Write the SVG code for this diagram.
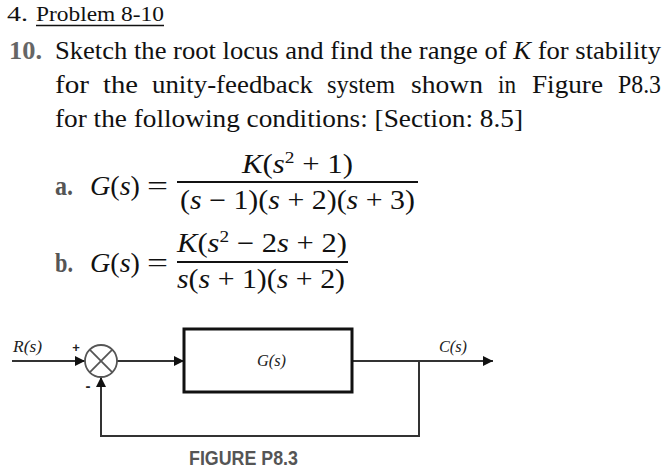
<svg xmlns="http://www.w3.org/2000/svg" width="668" height="470" viewBox="0 0 668 470">
<style>
.t{font-family:'Liberation Serif','Times New Roman',serif;fill:#111;}
.body{font-size:25px;}
.math{font-size:27px;}
.i{font-style:italic;}
.num{font-family:'Liberation Serif',serif;font-weight:bold;fill:#666;font-size:25px;}
.lbl{font-family:'Liberation Serif',serif;font-style:italic;font-size:16px;fill:#222;}
.ln{stroke:#333;stroke-width:2;fill:none;}
.bar{stroke:#111;stroke-width:2;}
.fig{font-family:'Liberation Sans',Arial,sans-serif;font-weight:bold;font-size:20px;fill:#555;}
</style>
<defs>
<marker id="ah" viewBox="0 0 10 10" refX="10" refY="5" markerWidth="13" markerHeight="10" markerUnits="userSpaceOnUse" orient="auto">
<path d="M0,0 L10,5 L0,10 z" fill="#111"/>
</marker>
</defs>

<g id="text" font-family="'Liberation Serif', serif">
<text class="t" x="7" y="21" font-size="21" textLength="21" lengthAdjust="spacingAndGlyphs">4.</text>
<text class="t" x="36" y="21" font-size="21" textLength="128" lengthAdjust="spacingAndGlyphs">Problem 8-10</text>
<line x1="36" y1="25.5" x2="164" y2="25.5" stroke="#111" stroke-width="1.3"/>
<text class="num" x="9" y="59" textLength="33" lengthAdjust="spacingAndGlyphs">10.</text>
<text class="t body" x="55" y="59" textLength="606" lengthAdjust="spacingAndGlyphs">Sketch the root locus and find the range of <tspan class="i">K</tspan> for stability</text>
<text class="t body" x="55" y="93" textLength="34" lengthAdjust="spacingAndGlyphs">for</text>
<text class="t body" x="103" y="93" textLength="35" lengthAdjust="spacingAndGlyphs">the</text>
<text class="t body" x="152" y="93" textLength="161" lengthAdjust="spacingAndGlyphs">unity-feedback</text>
<text class="t body" x="327" y="93" textLength="68" lengthAdjust="spacingAndGlyphs">system</text>
<text class="t body" x="411" y="93" textLength="72" lengthAdjust="spacingAndGlyphs">shown</text>
<text class="t body" x="498" y="93" textLength="18" lengthAdjust="spacingAndGlyphs">in</text>
<text class="t body" x="532" y="93" textLength="71" lengthAdjust="spacingAndGlyphs">Figure</text>
<text class="t body" x="618" y="93" textLength="43" lengthAdjust="spacingAndGlyphs">P8.3</text>
<text class="t body" x="55" y="127" textLength="468" lengthAdjust="spacingAndGlyphs">for the following conditions: [Section: 8.5]</text>
</g>

<g id="eq-a" font-family="'Liberation Serif', serif">
<text class="t math" x="55" y="195" textLength="18" lengthAdjust="spacingAndGlyphs"><tspan font-weight="bold" fill="#555">a.</tspan></text>
<text class="t math" x="90" y="195" textLength="50" lengthAdjust="spacingAndGlyphs"><tspan class="i">G</tspan>(<tspan class="i">s</tspan>)</text>
<text class="t math" x="147" y="195" textLength="21" lengthAdjust="spacingAndGlyphs">=</text>
<text class="t math" x="242" y="173" textLength="111" lengthAdjust="spacingAndGlyphs"><tspan class="i">K</tspan>(<tspan class="i">s</tspan><tspan dy="-10" font-size="17">2</tspan><tspan dy="10"> + 1)</tspan></text>
<line class="bar" x1="177" y1="182" x2="418" y2="182"/>
<text class="t math" x="180" y="209" textLength="235" lengthAdjust="spacingAndGlyphs">(<tspan class="i">s</tspan> − 1)(<tspan class="i">s</tspan> + 2)(<tspan class="i">s</tspan> + 3)</text>
</g>

<g id="eq-b" font-family="'Liberation Serif', serif">
<text class="t math" x="55" y="272" textLength="18" lengthAdjust="spacingAndGlyphs"><tspan font-weight="bold" fill="#555">b.</tspan></text>
<text class="t math" x="90" y="272" textLength="50" lengthAdjust="spacingAndGlyphs"><tspan class="i">G</tspan>(<tspan class="i">s</tspan>)</text>
<text class="t math" x="147" y="272" textLength="21" lengthAdjust="spacingAndGlyphs">=</text>
<text class="t math" x="177" y="252" textLength="170" lengthAdjust="spacingAndGlyphs"><tspan class="i">K</tspan>(<tspan class="i">s</tspan><tspan dy="-10" font-size="17">2</tspan><tspan dy="10"> − 2<tspan class="i">s</tspan> + 2)</tspan></text>
<line class="bar" x1="177" y1="262" x2="348" y2="262"/>
<text class="t math" x="177" y="288" textLength="168" lengthAdjust="spacingAndGlyphs"><tspan class="i">s</tspan>(<tspan class="i">s</tspan> + 1)(<tspan class="i">s</tspan> + 2)</text>
</g>

<g id="connectors">
<line class="ln" x1="12" y1="361" x2="85" y2="361" marker-end="url(#ah)"/>
<line class="ln" x1="117" y1="361" x2="184" y2="361" marker-end="url(#ah)"/>
<line class="ln" x1="352" y1="361" x2="493" y2="361" marker-end="url(#ah)"/>
<polyline class="ln" points="419,361 419,436 101,436 101,377" marker-end="url(#ah)"/>
</g>

<g id="sum">
<circle cx="101" cy="361" r="16" fill="#fff" stroke="#555" stroke-width="1.8"/>
<line x1="89.7" y1="349.7" x2="112.3" y2="372.3" stroke="#555" stroke-width="1.8"/>
<line x1="112.3" y1="349.7" x2="89.7" y2="372.3" stroke="#555" stroke-width="1.8"/>
<text x="76" y="352" font-family="'Liberation Sans', sans-serif" font-size="13" text-anchor="middle" font-weight="bold" fill="#222">+</text>
<text x="88" y="391" font-family="'Liberation Sans', sans-serif" font-size="15" text-anchor="middle" font-weight="bold" fill="#222">-</text>
</g>

<g id="block">
<rect x="184" y="329" width="168" height="63" fill="#fff" stroke="#111" stroke-width="3"/>
<text class="lbl" x="257" y="366" font-family="'Liberation Serif', serif" textLength="29" lengthAdjust="spacingAndGlyphs">G(s)</text>
</g>

<g id="labels">
<text class="lbl" x="13" y="352" font-family="'Liberation Serif', serif" textLength="29" lengthAdjust="spacingAndGlyphs">R(s)</text>
<text class="lbl" x="439" y="352" font-family="'Liberation Serif', serif" textLength="28" lengthAdjust="spacingAndGlyphs">C(s)</text>
<text class="fig" x="189" y="465" font-family="'Liberation Sans', sans-serif" textLength="109" lengthAdjust="spacingAndGlyphs">FIGURE P8.3</text>
</g>
</svg>
